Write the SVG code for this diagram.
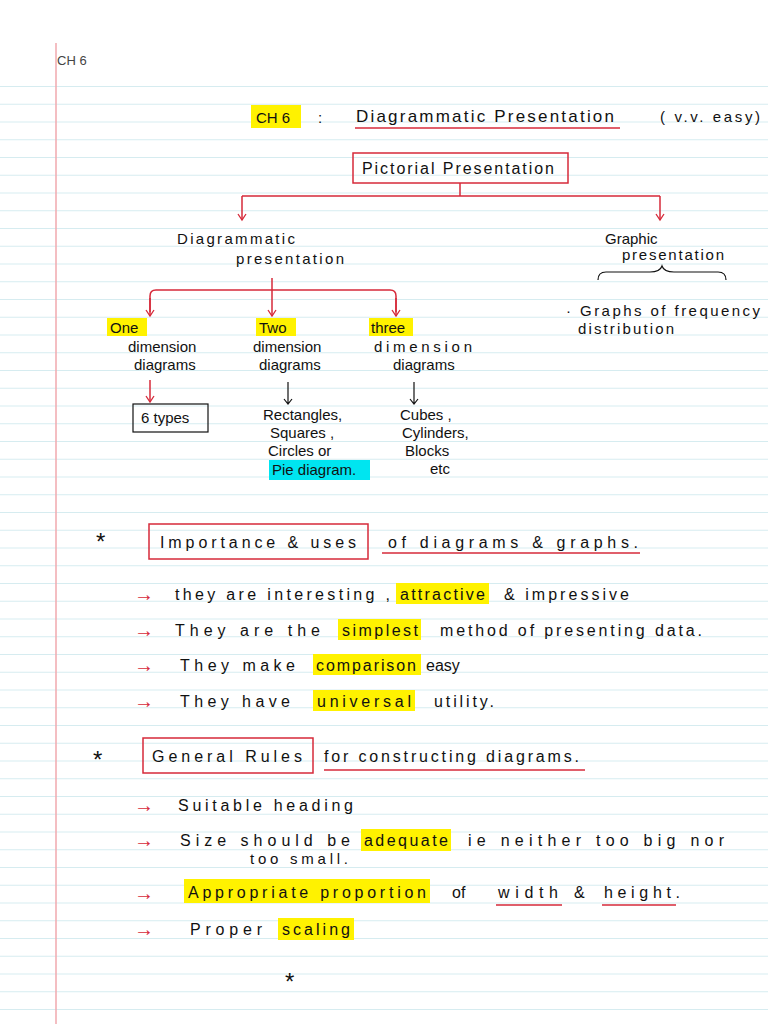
<svg xmlns="http://www.w3.org/2000/svg" width="768" height="1024" viewBox="0 0 768 1024">
<defs>
<pattern id="rule" x="0" y="86" width="768" height="17.75" patternUnits="userSpaceOnUse"><line x1="0" y1="0.5" x2="768" y2="0.5" stroke="#d6ecf0" stroke-width="1.2"/></pattern>
<marker id="ar" markerWidth="10" markerHeight="10" refX="8" refY="5" orient="auto" markerUnits="userSpaceOnUse"><path d="M2,1 L8,5 L2,9" fill="none" stroke="#d62a3a" stroke-width="1.3"/></marker>
</defs>
<style>
text{font-family:"Liberation Sans",sans-serif;fill:#111;font-size:15px}
.r{fill:none;stroke:#d62a3a;stroke-width:1.5}
.k{fill:none;stroke:#111;stroke-width:1.2}
.y{fill:#fff200}
.a{fill:#d62a3a;font-size:20px}
.m{font-size:16px}
</style>
<rect width="768" height="1024" fill="#fff"/>
<rect x="0" y="86" width="768" height="938" fill="url(#rule)"/>
<line x1="56" y1="43" x2="56" y2="1024" stroke="#f0a8ae" stroke-width="1.5"/>
<text x="57" y="65" style="fill:#444;font-size:13px">CH 6</text>

<g id="title">
<rect class="y" x="251" y="105" width="50" height="23"/>
<text x="256" y="123">CH 6</text>
<text x="318" y="123">:</text>
<text x="356" y="122" style="font-size:17px" textLength="258">Diagrammatic Presentation</text>
<line x1="355" y1="128" x2="620" y2="128" class="r"/>
<text x="660" y="122" textLength="100">( v.v. easy)</text>
</g>
<g id="pictorial">
<rect x="353" y="153" width="215" height="30" class="r"/>
<text x="362" y="174" style="font-size:16px" textLength="192">Pictorial Presentation</text>
</g>
<g id="connectors">
<path class="r" d="M460,183 V196 M242,196 H660"/>
<path class="r" d="M242,196 V220" marker-end="url(#ar)"/>
<path class="r" d="M660,196 V220" marker-end="url(#ar)"/>
<path class="r" d="M150,312 V296 Q150,290 156,290 H390 Q396,290 396,296 V312"/>
<path class="r" d="M150,298 V316" marker-end="url(#ar)"/>
<path class="r" d="M272,278 V316" marker-end="url(#ar)"/>
<path class="r" d="M396,298 V316" marker-end="url(#ar)"/>
<path class="r" d="M150,380 V402" marker-end="url(#ar)"/>
<path class="k" d="M288,382 V404 M284,399 L288,404 L292,399"/>
<path class="k" d="M414,382 V404 M410,399 L414,404 L418,399"/>
<path class="k" d="M598,280 Q598,272 606,272 H650 Q660,272 662,266 Q664,272 674,272 H718 Q726,272 726,280"/>
</g>
<g id="diag-pres"><text x="177" y="244" textLength="118">Diagrammatic</text><text x="236" y="264" textLength="108">presentation</text></g>
<g id="graphic-pres"><text x="605" y="244">Graphic</text><text x="622" y="260" textLength="102">presentation</text></g>
<g id="freq"><text x="566" y="316" textLength="194">· Graphs of frequency</text><text x="578" y="334" textLength="96">distribution</text></g>
<g id="one"><rect class="y" x="107" y="318" width="40" height="18"/><text x="110" y="333">One</text><text x="128" y="352">dimension</text><text x="134" y="370">diagrams</text></g>
<g id="two"><rect class="y" x="256" y="318" width="40" height="18"/><text x="259" y="333">Two</text><text x="253" y="352">dimension</text><text x="259" y="370">diagrams</text></g>
<g id="three"><rect class="y" x="369" y="318" width="44" height="18"/><text x="371" y="333">three</text><text x="374" y="352" textLength="98">dimension</text><text x="393" y="370">diagrams</text></g>
<g id="types"><rect x="133" y="404" width="75" height="28" class="k"/><text x="141" y="423">6 types</text></g>
<g id="twotypes"><text x="263" y="420">Rectangles,</text><text x="270" y="438">Squares ,</text><text x="268" y="456">Circles or</text><rect x="269" y="460" width="101" height="20" fill="#00e5f0"/><text x="272" y="475">Pie diagram.</text></g>
<g id="threetypes"><text x="400" y="420">Cubes ,</text><text x="402" y="438">Cylinders,</text><text x="405" y="456">Blocks</text><text x="430" y="474">etc</text></g>

<g id="importance">
<text x="96" y="550" style="font-size:24px">*</text>
<rect x="149" y="524" width="219" height="35" class="r"/>
<text x="160" y="548" class="m" textLength="196">Importance &amp; uses</text>
<text x="388" y="548" class="m" textLength="250">of diagrams &amp; graphs.</text>
<line x1="382" y1="553" x2="640" y2="553" class="r"/>
</g>
<g id="imp-list">
<text x="134" y="601" class="a">→</text><text x="175" y="600" class="m" textLength="215">they are interesting ,</text><rect class="y" x="396" y="583" width="93" height="21"/><text x="400" y="600" class="m" textLength="85">attractive</text><text x="504" y="600" class="m" textLength="125">&amp; impressive</text>
<text x="134" y="637" class="a">→</text><text x="175" y="636" class="m" textLength="145">They are the</text><rect class="y" x="338" y="619" width="83" height="21"/><text x="342" y="636" class="m" textLength="76">simplest</text><text x="440" y="636" class="m" textLength="262">method of presenting data.</text>
<text x="134" y="672" class="a">→</text><text x="180" y="671" class="m" textLength="115">They make</text><rect class="y" x="313" y="654" width="108" height="21"/><text x="316" y="671" class="m" textLength="100">comparison</text><text x="426" y="671" class="m">easy</text>
<text x="134" y="708" class="a">→</text><text x="180" y="707" class="m" textLength="110">They have</text><rect class="y" x="313" y="690" width="102" height="21"/><text x="317" y="707" class="m" textLength="94">universal</text><text x="434" y="707" class="m" textLength="60">utility.</text>
</g>
<g id="rules">
<text x="93" y="768" style="font-size:24px">*</text>
<rect x="143" y="738" width="170" height="35" class="r"/>
<text x="152" y="762" class="m" textLength="150">General Rules</text>
<text x="324" y="762" class="m" textLength="255">for constructing diagrams.</text>
<line x1="324" y1="770" x2="585" y2="770" class="r"/>
</g>
<g id="rules-list">
<text x="134" y="812" class="a">→</text><text x="178" y="811" class="m" textLength="175">Suitable heading</text>
<text x="134" y="847" class="a">→</text><text x="180" y="846" class="m" textLength="170">Size should be</text><rect class="y" x="361" y="829" width="90" height="22"/><text x="364" y="846" class="m" textLength="84">adequate</text><text x="468" y="846" class="m" textLength="256">ie  neither too big nor</text>
<text x="250" y="864" textLength="98">too small.</text>
<text x="134" y="900" class="a">→</text><rect class="y" x="184" y="879" width="246" height="24"/><text x="188" y="898" class="m" textLength="238">Appropriate proportion</text><text x="452" y="898" class="m">of</text><text x="498" y="898" class="m" textLength="60">width</text><text x="574" y="898" class="m">&amp;</text><text x="604" y="898" class="m" textLength="76">height.</text>
<line x1="496" y1="905" x2="562" y2="905" class="r"/><line x1="602" y1="905" x2="676" y2="905" class="r"/>
<text x="134" y="936" class="a">→</text><text x="190" y="935" class="m" textLength="72">Proper</text><rect class="y" x="278" y="918" width="76" height="22"/><text x="282" y="935" class="m" textLength="68">scaling</text>
<text x="285" y="990" style="font-size:24px">*</text>
</g>
</svg>
